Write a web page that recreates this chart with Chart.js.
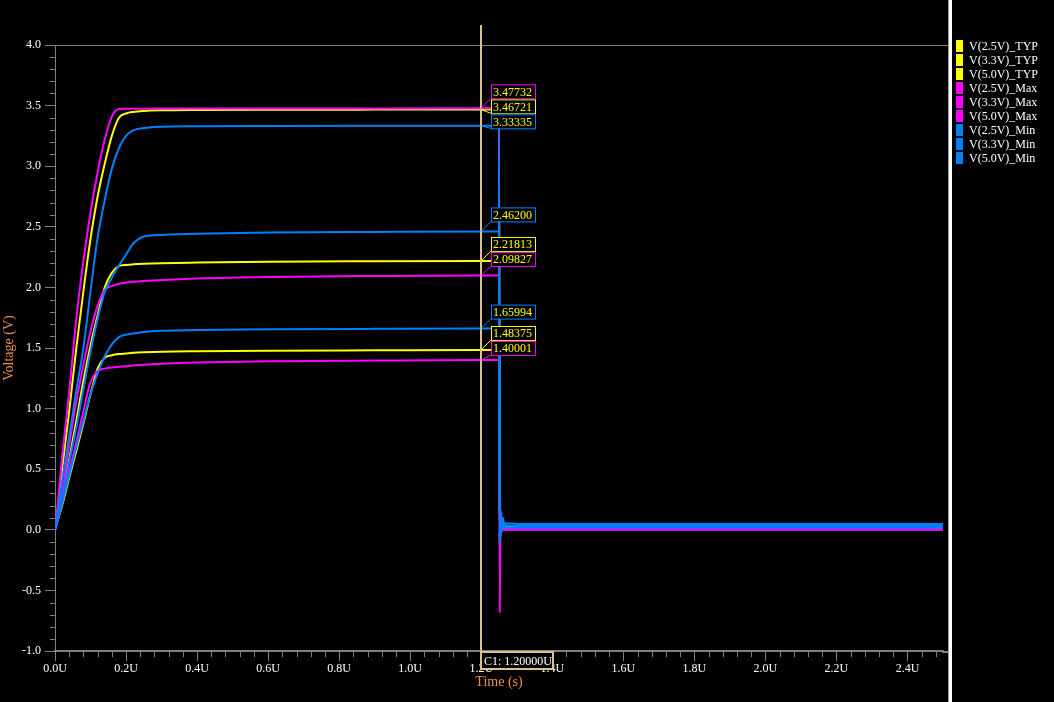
<!DOCTYPE html>
<html>
<head>
<meta charset="utf-8">
<title>Transient response</title>
<script src="https://cdn.jsdelivr.net/npm/chart.js@4/dist/chart.umd.min.js"></script>
<style>
  html, body { margin: 0; padding: 0; background: #000; }
  #wrap { width: 1054px; height: 702px; }
</style>
</head>
<body>
<div id="wrap"><canvas id="scope"></canvas></div>
<script>
// sample times (U = microseconds)
const times = [0, 0.005, 0.02, 0.04, 0.06, 0.08, 0.10, 0.12, 0.14, 0.16, 0.18, 0.20, 0.22, 0.25, 0.30,
  0.40, 0.60, 0.90, 1.20, 1.25, 1.252, 1.2535, 1.255, 1.2565, 1.258, 1.261, 1.265, 1.27, 1.30, 2.50];

const seriesLabels = ['V(2.5V)_TYP', 'V(3.3V)_TYP', 'V(5.0V)_TYP',
  'V(2.5V)_Max', 'V(3.3V)_Max', 'V(5.0V)_Max',
  'V(2.5V)_Min', 'V(3.3V)_Min', 'V(5.0V)_Min'];

const typ25 = [0, 0.05, 0.20, 0.43, 0.65, 0.88, 1.12, 1.33, 1.42, 1.44, 1.45, 1.455, 1.46, 1.465, 1.47,
  1.474, 1.478, 1.481, 1.48375, 1.4837, -0.05, 0.05, 0.0, 0.04, 0.01, 0.025, 0.02, 0.02, 0.02, 0.02];
const typ33 = [0, 0.07, 0.28, 0.58, 0.90, 1.23, 1.52, 1.77, 2.00, 2.12, 2.175, 2.185, 2.19, 2.195, 2.20,
  2.205, 2.212, 2.216, 2.21813, 2.2181, -0.08, 0.07, 0.0, 0.05, 0.015, 0.03, 0.025, 0.025, 0.025, 0.025];
const typ50 = [0, 0.10, 0.50, 0.98, 1.50, 1.97, 2.40, 2.75, 3.02, 3.25, 3.40, 3.435, 3.448, 3.456, 3.461,
  3.464, 3.466, 3.4668, 3.46721, 3.4672, -0.12, 0.10, -0.01, 0.06, 0.02, 0.04, 0.03, 0.03, 0.03, 0.03];

const max25 = [0, 0.05, 0.22, 0.48, 0.72, 0.98, 1.22, 1.31, 1.33, 1.34, 1.345, 1.35, 1.355, 1.362, 1.37,
  1.38, 1.39, 1.396, 1.40001, 1.4, -0.15, 0.02, 0.0, 0.01, 0.004, 0.004, 0.004, 0.004, 0.004, 0.004];
const max33 = [0, 0.08, 0.30, 0.70, 1.06, 1.36, 1.64, 1.85, 1.98, 2.01, 2.03, 2.04, 2.046, 2.053, 2.062,
  2.074, 2.086, 2.094, 2.09827, 2.0982, -0.30, 0.0, 0.02, 0.0, 0.008, 0.002, 0.002, 0.002, 0.002, 0.002];
const max50 = [0, 0.13, 0.60, 1.14, 1.74, 2.22, 2.62, 2.95, 3.22, 3.41, 3.472, 3.474, 3.475, 3.475, 3.476,
  3.476, 3.4765, 3.477, 3.47732, 3.4773, -0.68, -0.15, 0.03, -0.01, 0.01, 0.0, 0.003, 0.0, 0.0, 0.0];

const min25 = [0, 0.05, 0.22, 0.45, 0.68, 0.90, 1.12, 1.29, 1.43, 1.53, 1.59, 1.61, 1.62, 1.632, 1.642,
  1.648, 1.654, 1.658, 1.65994, 1.6599, -0.05, 0.11, 0.0, 0.08, 0.01, 0.05, 0.02, 0.018, 0.016, 0.016];
const min33 = [0, 0.07, 0.26, 0.56, 0.84, 1.16, 1.47, 1.74, 1.96, 2.08, 2.18, 2.27, 2.36, 2.42, 2.433,
  2.442, 2.452, 2.458, 2.46200, 2.462, -0.08, 0.16, -0.03, 0.11, 0.0, 0.07, 0.025, 0.035, 0.032, 0.032];
const min50 = [0, 0.09, 0.40, 0.77, 1.15, 1.50, 1.97, 2.41, 2.72, 2.98, 3.15, 3.25, 3.295, 3.315, 3.326,
  3.330, 3.332, 3.333, 3.33335, 3.3333, -0.11, 0.22, -0.06, 0.15, -0.02, 0.10, 0.03, 0.055, 0.048, 0.048];

const cursorTime = 1.2;

const YELLOW = '#ffff00', MAGENTA = '#ff00ff', BLUE = '#0080ff';
const TAN = '#dcc08e', GREY = '#808080', ORANGE = '#f0904a';
const FONT = "'Liberation Serif', 'DejaVu Serif', serif";

const seriesValues = [typ25, typ33, typ50, max25, max33, max50, min25, min33, min50];
const seriesColors = [YELLOW, YELLOW, YELLOW, MAGENTA, MAGENTA, MAGENTA, BLUE, BLUE, BLUE];
const seriesOrder = [2, 2, 2, 1, 1, 1, 0, 0, 0];

const isMajorX = v => Math.abs(v * 5 - Math.round(v * 5)) < 1e-6;
const isMajorY = v => Math.abs(v * 2 - Math.round(v * 2)) < 1e-6;

const datasets = seriesValues.map((vals, i) => ({
  label: seriesLabels[i],
  data: times.map((t, j) => ({ x: t, y: vals[j] })),
  borderColor: seriesColors[i],
  backgroundColor: seriesColors[i],
  borderWidth: 2,
  pointRadius: 0,
  cubicInterpolationMode: 'monotone',
  order: seriesOrder[i]
}));

// minor ticks, frame, legend and cursor readouts
const scopeDecor = {
  id: 'scopeDecor',
  afterDraw(chart) {
    const { ctx, chartArea: a, scales: { x, y } } = chart;
    ctx.save();

    // top frame line and axis extension
    ctx.strokeStyle = GREY;
    ctx.lineWidth = 1;
    ctx.beginPath();
    ctx.moveTo(a.left, a.top + 0.5);
    ctx.lineTo(a.right + 5, a.top + 0.5);
    ctx.stroke();
    ctx.lineWidth = 2;
    ctx.beginPath();
    ctx.moveTo(a.right - 1, a.bottom + 1);
    ctx.lineTo(a.right + 5, a.bottom + 1);
    ctx.stroke();

    // minor ticks
    ctx.lineWidth = 1;
    ctx.beginPath();
    x.ticks.forEach(t => {
      if (isMajorX(t.value)) return;
      const px = Math.round(x.getPixelForValue(t.value)) + 0.5;
      ctx.moveTo(px, a.bottom);
      ctx.lineTo(px, a.bottom + 6);
    });
    y.ticks.forEach(t => {
      if (isMajorY(t.value)) return;
      const py = Math.round(y.getPixelForValue(t.value)) + 0.5;
      ctx.moveTo(a.left - 5, py);
      ctx.lineTo(a.left, py);
    });
    ctx.stroke();

    // divider
    ctx.fillStyle = '#a0a0a0';
    ctx.fillRect(a.right + 5, 0, 1, chart.height);
    ctx.fillStyle = '#ffffff';
    ctx.fillRect(a.right + 6, 0, 3, chart.height);

    // legend
    ctx.font = '12px ' + FONT;
    ctx.textBaseline = 'middle';
    ctx.textAlign = 'left';
    chart.data.datasets.forEach((ds, i) => {
      const top = 40 + i * 14;
      ctx.fillStyle = ds.borderColor;
      ctx.fillRect(a.right + 13, top, 7, 12);
      ctx.fillStyle = '#ffffff';
      ctx.fillText(ds.label, a.right + 26, top + 6.5);
    });

    // cursor
    const cx = Math.round(x.getPixelForValue(cursorTime));
    ctx.strokeStyle = TAN;
    ctx.lineWidth = 2;
    ctx.beginPath();
    ctx.moveTo(cx, 25);
    ctx.lineTo(cx, a.bottom);
    ctx.stroke();

    // readouts at cursor
    const idx = times.indexOf(cursorTime);
    const reads = chart.data.datasets
      .map(ds => ({ v: ds.data[idx].y, color: ds.borderColor }))
      .sort((p, q) => q.v - p.v);
    let prevBottom = -Infinity;
    const bx = cx + 10, bw = 44, bh = 14;
    reads.forEach(r => {
      const py = y.getPixelForValue(r.v);
      let top = py - 10 - bh;
      if (top < prevBottom + 1) top = prevBottom + 1;
      const bottom = top + bh;
      prevBottom = bottom;
      ctx.strokeStyle = r.color;
      ctx.lineWidth = 1;
      ctx.beginPath();
      ctx.moveTo(cx, py);
      ctx.lineTo(bx, bottom);
      ctx.stroke();
      ctx.fillStyle = '#000';
      ctx.fillRect(bx, top, bw, bh);
      ctx.strokeRect(bx + 0.5, top + 0.5, bw, bh);
      ctx.fillStyle = YELLOW;
      ctx.fillText(r.v.toFixed(5), bx + 2, top + bh / 2 + 1);
    });

    // cursor time box
    const tb = { x: cx, y: a.bottom + 1, w: 72, h: 17 };
    ctx.fillStyle = '#000';
    ctx.fillRect(tb.x, tb.y, tb.w, tb.h);
    ctx.strokeStyle = TAN;
    ctx.lineWidth = 2;
    ctx.strokeRect(tb.x, tb.y, tb.w, tb.h);
    ctx.fillStyle = '#ffffff';
    ctx.fillText('C1: ' + cursorTime.toFixed(5) + 'U', tb.x + 3, tb.y + tb.h / 2 + 1);

    ctx.restore();
  }
};

Chart.defaults.font.family = FONT;
Chart.defaults.font.size = 12;
Chart.defaults.color = '#ffffff';

new Chart(document.getElementById('scope'), {
  type: 'line',
  data: { datasets: datasets },
  plugins: [scopeDecor],
  options: {
    responsive: true,
    maintainAspectRatio: false,
    animation: false,
    layout: { padding: { left: 0, top: 45, right: 111, bottom: 0 } },
    plugins: {
      legend: { display: false },
      tooltip: { enabled: false }
    },
    scales: {
      x: {
        type: 'linear',
        min: 0,
        max: 2.5,
        afterFit: s => { s.height = 51; },
        afterBuildTicks: s => {
          s.ticks = s.ticks.filter(t => t.value <= 2.49);
        },
        ticks: {
          stepSize: 0.04,
          autoSkip: false,
          maxRotation: 0,
          includeBounds: false,
          padding: 1,
          color: '#ffffff',
          font: { size: 12 },
          callback: v => isMajorX(v) ? v.toFixed(1) + 'U' : ''
        },
        grid: {
          drawOnChartArea: false,
          drawTicks: true,
          tickLength: 10,
          color: c => (c.tick && isMajorX(c.tick.value)) ? GREY : 'rgba(0,0,0,0)'
        },
        border: { display: true, color: GREY, width: 2 },
        title: {
          display: true,
          text: 'Time (s)',
          color: ORANGE,
          font: { size: 14 },
          padding: { top: 0, bottom: 11 }
        }
      },
      y: {
        type: 'linear',
        min: -1,
        max: 4,
        afterFit: s => { s.width = 55; },
        ticks: {
          stepSize: 0.1,
          autoSkip: false,
          padding: 4,
          color: '#ffffff',
          font: { size: 12 },
          callback: v => isMajorY(v) ? v.toFixed(1) : ''
        },
        grid: {
          drawOnChartArea: false,
          drawTicks: true,
          tickLength: 10,
          color: c => (c.tick && isMajorY(c.tick.value)) ? GREY : 'rgba(0,0,0,0)'
        },
        border: { display: true, color: GREY, width: 1 },
        title: {
          display: true,
          text: 'Voltage (V)',
          color: ORANGE,
          font: { size: 14 },
          padding: { top: 1, bottom: 0 }
        }
      }
    }
  }
});
</script>
</body>
</html>
